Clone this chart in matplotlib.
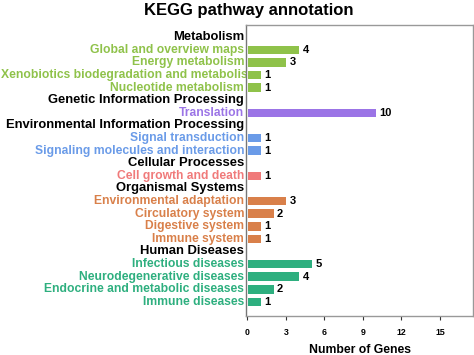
import matplotlib
matplotlib.use("Agg")
import matplotlib.pyplot as plt
import matplotlib.transforms as mtransforms

plt.rcParams['font.family'] = ['Liberation Sans', 'DejaVu Sans']

groups = ["Metabolism", "Genetic Information Processing",
          "Environmental Information Processing", "Cellular Processes",
          "Organismal Systems", "Human Diseases"]
group_colors = ["#8fc24a", "#9b74e6", "#6a9be8", "#f07a7a", "#d9804a", "#2eaf7f"]
pathways = [
    ["Global and overview maps", "Energy metabolism",
     "Xenobiotics biodegradation and metabolism", "Nucleotide metabolism"],
    ["Translation"],
    ["Signal transduction", "Signaling molecules and interaction"],
    ["Cell growth and death"],
    ["Environmental adaptation", "Circulatory system", "Digestive system", "Immune system"],
    ["Infectious diseases", "Neurodegenerative diseases",
     "Endocrine and metabolic diseases", "Immune diseases"],
]
counts = [
    [4, 3, 1, 1],
    [10],
    [1, 1],
    [1],
    [3, 2, 1, 1],
    [5, 4, 2, 1],
]
xticks = [0, 3, 6, 9, 12, 15]

W, H = 474, 355
fig = plt.figure(figsize=(W / 100, H / 100), dpi=100)
left, right, top, bottom = 245.7, 472.7, 24.7, 315.7
ax = fig.add_axes([left / W, 1 - bottom / H, (right - left) / W, (bottom - top) / H])
ax.set_facecolor("white")

trans = mtransforms.blended_transform_factory(fig.transFigure, ax.transData)
label_x = 244 / W

item_texts = []
row = 0
for g, gc, names, vals in zip(groups, group_colors, pathways, counts):
    fig.text(label_x, row, g, transform=trans, ha="right", va="center",
             fontsize=9.4, fontweight="bold", color="black", zorder=5)
    row += 1
    for n, v in zip(names, vals):
        ax.barh(row, v, height=0.68, color=gc, left=0.05)
        ax.text(v + 0.05 + 0.25, row, str(v), ha="left", va="center",
                fontsize=8, fontweight="bold", color="black")
        t = fig.text(label_x, row, n, transform=trans, ha="right", va="center",
                     fontsize=8.7, fontweight="bold", color=gc, zorder=-1)
        item_texts.append(t)
        row += 1

ax.set_ylim(row - 1 + 1.1, -1.0)
ax.set_xlim(-0.12, 17.54)
ax.set_yticks([])
ax.set_xticks(xticks)
ax.set_xticklabels([str(t) for t in xticks], fontsize=6.3, fontweight="bold")
ax.tick_params(axis="x", length=3, width=0.8, color="#333333", pad=6)
for s in ax.spines.values():
    s.set_color("#999999")
    s.set_linewidth(1.0)
ax.spines["left"].set_color("#777777")

fig.text(249 / W, 1 - 10 / H, "KEGG pathway annotation", ha="center", va="center",
         fontsize=12, fontweight="bold")
fig.text(360 / W, 1 - 350 / H, "Number of Genes", ha="center", va="center",
         fontsize=8.8, fontweight="bold")

# labels too long to fit: start them at the left edge, the panel hides the overflow
fig.canvas.draw()
renderer = fig.canvas.get_renderer()
for t in item_texts:
    bb = t.get_window_extent(renderer)
    if bb.x0 < 1:
        t.set_ha("left")
        t.set_x(1 / W)

fig.savefig("out.png", dpi=100, facecolor="white")
